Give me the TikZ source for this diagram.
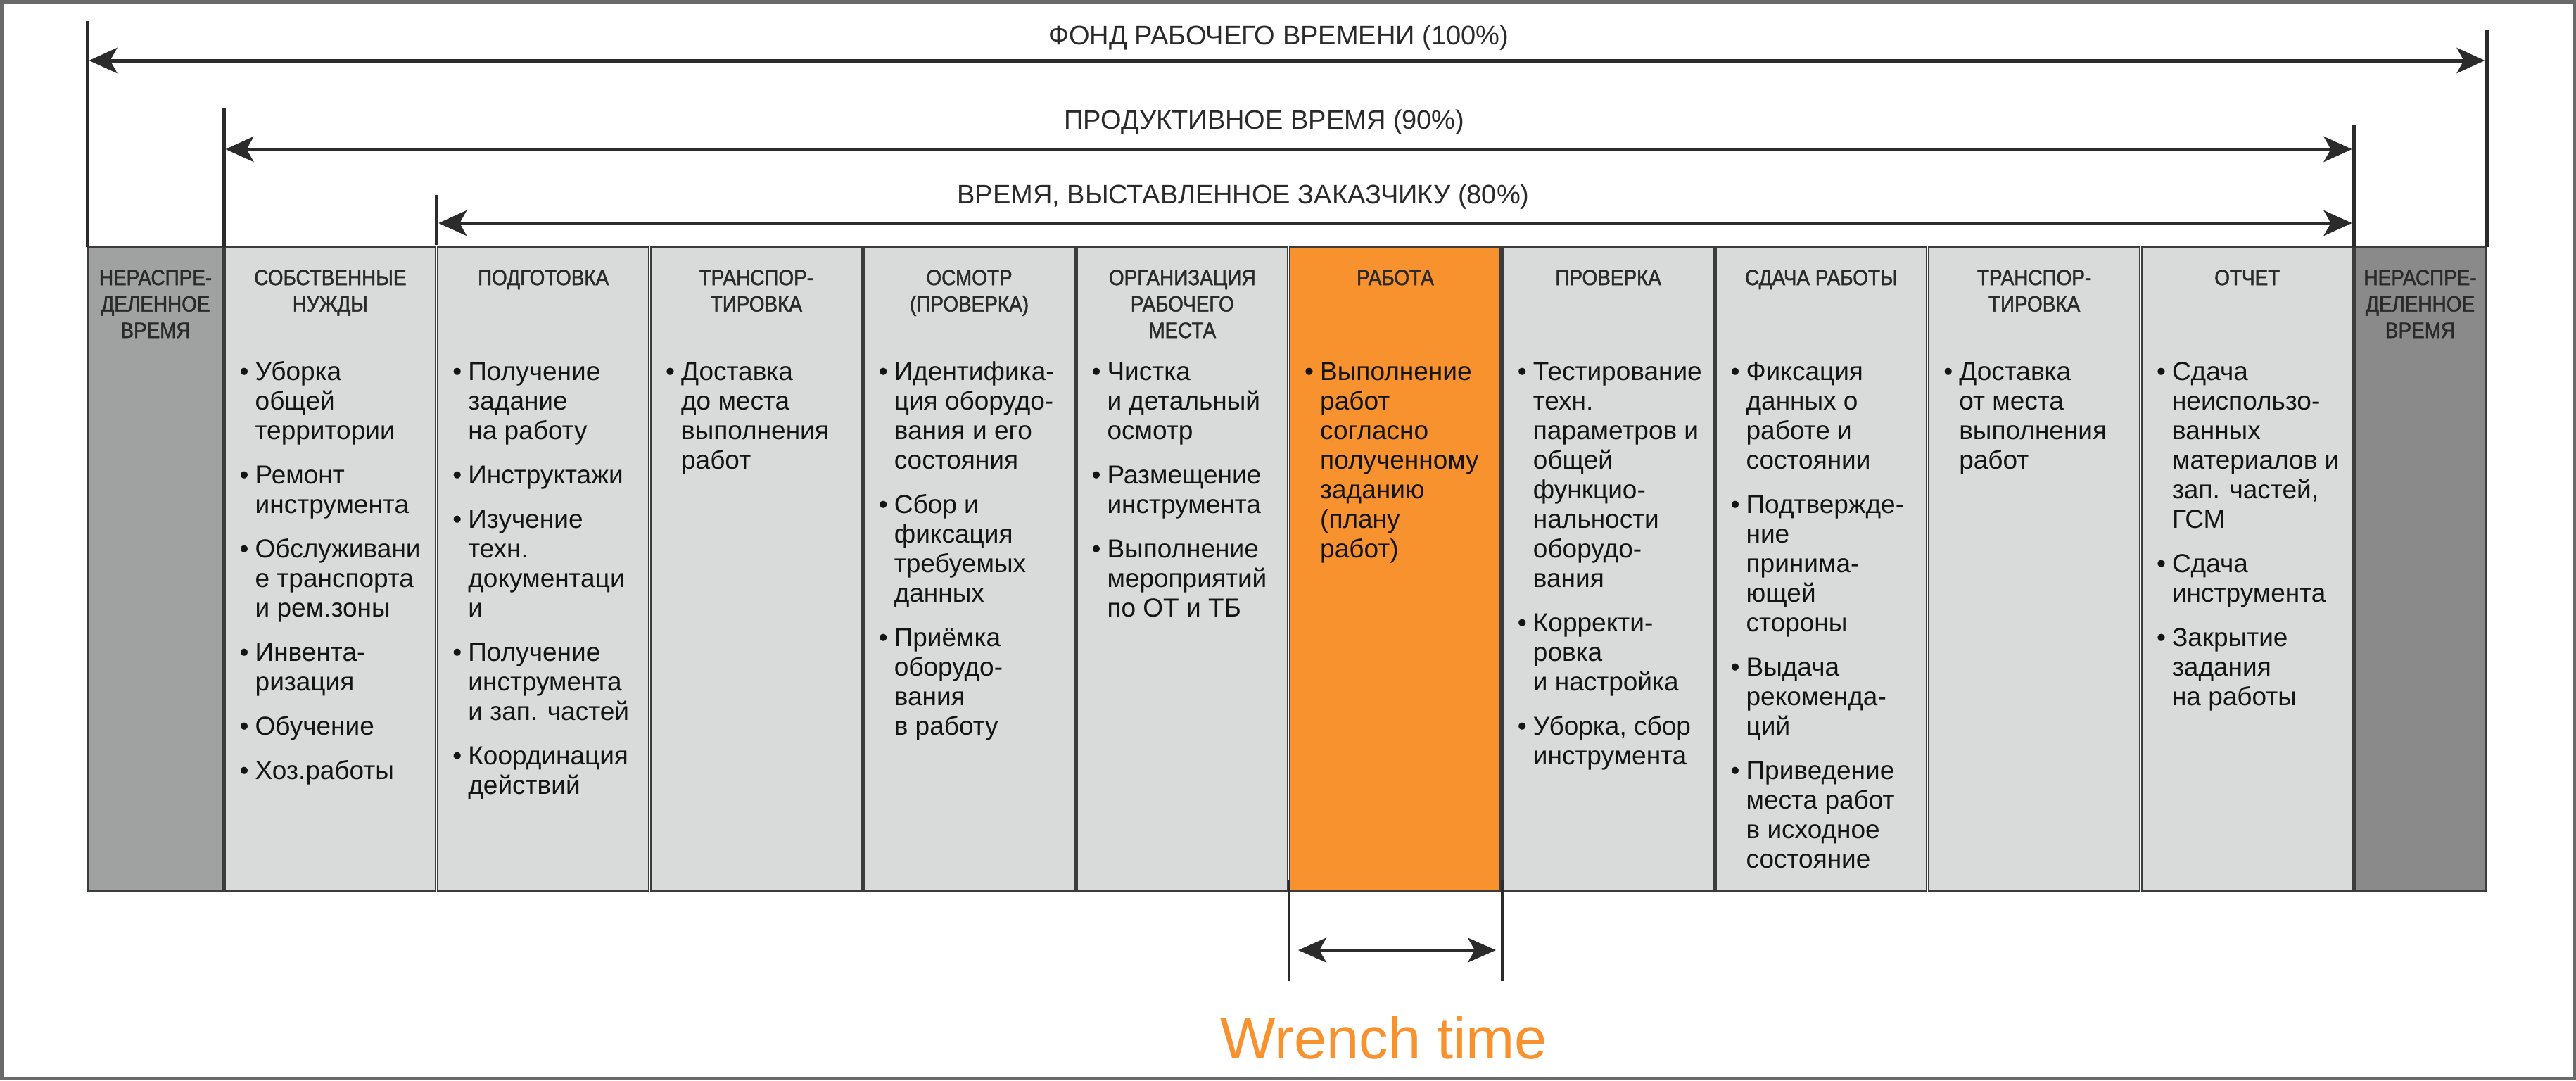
\documentclass[tikz,border=0pt]{standalone}
\usepackage{fontspec}
\setmainfont{Liberation Sans}
\newfontfamily\hdrf[FakeStretch=0.9,FakeBold=1.6]{Liberation Sans}
\usetikzlibrary{arrows.meta}
\definecolor{linec}{HTML}{2B2B2B}
\definecolor{cellborder}{HTML}{3C3C3C}
\definecolor{lightcell}{HTML}{D9DBDB}
\definecolor{darkA}{HTML}{A0A1A1}
\definecolor{darkB}{HTML}{8A8A8A}
\definecolor{orangec}{HTML}{F7922E}
\definecolor{framec}{HTML}{6A6A6A}
\definecolor{bodytxt}{HTML}{141414}
\definecolor{hdrtxt}{HTML}{2A2A2A}
\newcommand{\bl}{\makebox[0.22cm][l]{•}}
\newcommand{\gap}{\\[0.21cm]}
\begin{document}
\begin{tikzpicture}[
  cell/.style={draw=cellborder, line width=0.025cm, inner sep=0pt, outer sep=0pt, anchor=north west, minimum height=9.15cm},
  lightbox/.style={cell, fill=lightcell, minimum width=2.997cm},
  hdr/.style={font=\hdrf\fontsize{0.31cm}{0.375cm}\selectfont, text=hdrtxt, inner sep=0pt, anchor=base},
  body/.style={font=\fontsize{0.37cm}{0.42cm}\selectfont, text=bodytxt, inner sep=0pt, anchor=base west},
  toplab/.style={font=\fontsize{0.38cm}{0.45cm}\selectfont, text=hdrtxt, inner sep=0pt, anchor=base},
  bar/.style={draw=linec, line width=0.05cm},
  thinbar/.style={draw=linec, line width=0.045cm},
  dimarrow/.style={draw=linec, line width=0.05cm, arrows={Stealth[length=4mm,width=3.6mm,inset=1mm]-Stealth[length=4mm,width=3.6mm,inset=1mm]}},
  wrarrow/.style={draw=linec, line width=0.04cm, arrows={Stealth[length=4mm,width=3.5mm,inset=1mm]-Stealth[length=4mm,width=3.5mm,inset=1mm]}}
]
\useasboundingbox (0,0) rectangle (36.61,-15.35);
\fill[white] (0,0) rectangle (36.61,-15.35);
\draw[framec, line width=0.045cm] (0.0225,-0.0225) rectangle (36.5875,-15.3275);

% cells
\node[cell, fill=darkA, minimum width=1.91cm] (c1) at (1.255,-3.51) {};
\node[lightbox] (c2) at (3.195,-3.51) {};
\node[lightbox] (c3) at (6.222,-3.51) {};
\node[lightbox] (c4) at (9.249,-3.51) {};
\node[lightbox] (c5) at (12.276,-3.51) {};
\node[lightbox] (c6) at (15.303,-3.51) {};
\node[cell, fill=orangec, minimum width=2.997cm] (c7) at (18.330,-3.51) {};
\node[lightbox] (c8) at (21.357,-3.51) {};
\node[lightbox] (c9) at (24.384,-3.51) {};
\node[lightbox] (c10) at (27.411,-3.51) {};
\node[lightbox] (c11) at (30.438,-3.51) {};
\node[cell, fill=darkB, minimum width=1.86cm] (c12) at (33.465,-3.51) {};

% bars
\coordinate (b1t) at (1.24,-0.30);  \coordinate (b1b) at (1.24,-3.51);
\coordinate (b2t) at (3.18,-1.54);  \coordinate (b2b) at (3.18,-3.51);
\coordinate (b3t) at (6.207,-2.77); \coordinate (b3b) at (6.207,-3.48);
\coordinate (b4t) at (33.45,-1.77); \coordinate (b4b) at (33.45,-3.51);
\coordinate (b5t) at (35.34,-0.42); \coordinate (b5b) at (35.34,-3.51);
\draw[bar] (b1t) -- (b1b);
\draw[bar] (b2t) -- (b2b);
\draw[bar] (b3t) -- (b3b);
\draw[bar] (b4t) -- (b4b);
\draw[bar] (b5t) -- (b5b);

% dimension arrows
\coordinate (a1l) at (1.265,-0.86);  \coordinate (a1r) at (35.315,-0.86);
\coordinate (a2l) at (3.205,-2.12);  \coordinate (a2r) at (33.425,-2.12);
\coordinate (a3l) at (6.232,-3.17);  \coordinate (a3r) at (33.425,-3.17);
\draw[dimarrow] (a1l) -- (a1r);
\draw[dimarrow] (a2l) -- (a2r);
\draw[dimarrow] (a3l) -- (a3r);

\node[toplab] (t1) at (18.17,-0.63) {ФОНД РАБОЧЕГО ВРЕМЕНИ (100\%)};
\node[toplab] (t2) at (17.97,-1.83) {ПРОДУКТИВНОЕ ВРЕМЯ (90\%)};
\node[toplab] (t3) at (17.67,-2.89) {ВРЕМЯ, ВЫСТАВЛЕННОЕ ЗАКАЗЧИКУ (80\%)};

% headers
\node[hdr] (h1) at (2.21,-4.05) {\begin{tabular}[t]{@{}c@{}}НЕРАСПРЕ-\\ДЕЛЕННОЕ\\ВРЕМЯ\end{tabular}};
\node[hdr] (h2) at (4.694,-4.05) {\begin{tabular}[t]{@{}c@{}}СОБСТВЕННЫЕ\\НУЖДЫ\end{tabular}};
\node[hdr] (h3) at (7.721,-4.05) {ПОДГОТОВКА};
\node[hdr] (h4) at (10.748,-4.05) {\begin{tabular}[t]{@{}c@{}}ТРАНСПОР-\\ТИРОВКА\end{tabular}};
\node[hdr] (h5) at (13.775,-4.05) {\begin{tabular}[t]{@{}c@{}}ОСМОТР\\(ПРОВЕРКА)\end{tabular}};
\node[hdr] (h6) at (16.802,-4.05) {\begin{tabular}[t]{@{}c@{}}ОРГАНИЗАЦИЯ\\РАБОЧЕГО\\МЕСТА\end{tabular}};
\node[hdr] (h7) at (19.829,-4.05) {РАБОТА};
\node[hdr] (h8) at (22.856,-4.05) {ПРОВЕРКА};
\node[hdr] (h9) at (25.883,-4.05) {СДАЧА РАБОТЫ};
\node[hdr] (h10) at (28.910,-4.05) {\begin{tabular}[t]{@{}c@{}}ТРАНСПОР-\\ТИРОВКА\end{tabular}};
\node[hdr] (h11) at (31.937,-4.05) {ОТЧЕТ};
\node[hdr] (h12) at (34.395,-4.05) {\begin{tabular}[t]{@{}c@{}}НЕРАСПРЕ-\\ДЕЛЕННОЕ\\ВРЕМЯ\end{tabular}};

% bodies
\node[body] (d2) at (3.40,-5.40) {\begin{tabular}[t]{@{}l@{}l@{}}
\bl & Уборка\\ & общей\\ & территории\gap
\bl & Ремонт\\ & инструмента\gap
\bl & Обслуживани\\ & е транспорта\\ & и рем.зоны\gap
\bl & Инвента-\\ & ризация\gap
\bl & Обучение\gap
\bl & Хоз.работы
\end{tabular}};
\node[body] (d3) at (6.427,-5.40) {\begin{tabular}[t]{@{}l@{}l@{}}
\bl & Получение\\ & задание\\ & на работу\gap
\bl & Инструктажи\gap
\bl & Изучение\\ & техн.\\ & документаци\\ & и\gap
\bl & Получение\\ & инструмента\\ & и зап. частей\gap
\bl & Координация\\ & действий
\end{tabular}};
\node[body] (d4) at (9.454,-5.40) {\begin{tabular}[t]{@{}l@{}l@{}}
\bl & Доставка\\ & до места\\ & выполнения\\ & работ
\end{tabular}};
\node[body] (d5) at (12.481,-5.40) {\begin{tabular}[t]{@{}l@{}l@{}}
\bl & Идентифика-\\ & ция оборудо-\\ & вания и его\\ & состояния\gap
\bl & Сбор и\\ & фиксация\\ & требуемых\\ & данных\gap
\bl & Приёмка\\ & оборудо-\\ & вания\\ & в работу
\end{tabular}};
\node[body] (d6) at (15.508,-5.40) {\begin{tabular}[t]{@{}l@{}l@{}}
\bl & Чистка\\ & и детальный\\ & осмотр\gap
\bl & Размещение\\ & инструмента\gap
\bl & Выполнение\\ & мероприятий\\ & по ОТ и ТБ
\end{tabular}};
\node[body] (d7) at (18.535,-5.40) {\begin{tabular}[t]{@{}l@{}l@{}}
\bl & Выполнение\\ & работ\\ & согласно\\ & полученному\\ & заданию\\ & (плану\\ & работ)
\end{tabular}};
\node[body] (d8) at (21.562,-5.40) {\begin{tabular}[t]{@{}l@{}l@{}}
\bl & Тестирование\\ & техн.\\ & параметров и\\ & общей\\ & функцио-\\ & нальности\\ & оборудо-\\ & вания\gap
\bl & Корректи-\\ & ровка\\ & и настройка\gap
\bl & Уборка, сбор\\ & инструмента
\end{tabular}};
\node[body] (d9) at (24.589,-5.40) {\begin{tabular}[t]{@{}l@{}l@{}}
\bl & Фиксация\\ & данных о\\ & работе и\\ & состоянии\gap
\bl & Подтвержде-\\ & ние\\ & принима-\\ & ющей\\ & стороны\gap
\bl & Выдача\\ & рекоменда-\\ & ций\gap
\bl & Приведение\\ & места работ\\ & в исходное\\ & состояние
\end{tabular}};
\node[body] (d10) at (27.616,-5.40) {\begin{tabular}[t]{@{}l@{}l@{}}
\bl & Доставка\\ & от места\\ & выполнения\\ & работ
\end{tabular}};
\node[body] (d11) at (30.643,-5.40) {\begin{tabular}[t]{@{}l@{}l@{}}
\bl & Сдача\\ & неиспользо-\\ & ванных\\ & материалов и\\ & зап. частей,\\ & ГСМ\gap
\bl & Сдача\\ & инструмента\gap
\bl & Закрытие\\ & задания\\ & на работы
\end{tabular}};

% wrench time
\coordinate (w1t) at (18.32,-12.50);  \coordinate (w1b) at (18.32,-13.94);
\coordinate (w2t) at (21.355,-12.50); \coordinate (w2b) at (21.355,-13.94);
\draw[thinbar] (w1t) -- (w1b);
\draw[thinbar] (w2t) -- (w2b);
\coordinate (wl) at (18.45,-13.50); \coordinate (wr) at (21.26,-13.50);
\draw[wrarrow] (wl) -- (wr);
\node[font=\fontsize{0.83cm}{1cm}\selectfont, text=orangec, anchor=base, inner sep=0pt] (wt) at (19.67,-15.04) {Wrench time};
\end{tikzpicture}
\end{document}
